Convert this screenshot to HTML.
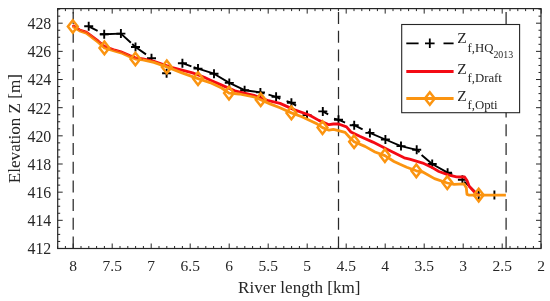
<!DOCTYPE html>
<html><head><meta charset="utf-8"><title>Longitudinal profile</title>
<style>html,body{margin:0;padding:0;background:#fff;}body{width:550px;height:301px;overflow:hidden;}svg{display:block;}text{font-family:"Liberation Serif","DejaVu Serif",serif;fill:#262626;}</style></head><body>
<svg width="550" height="301" viewBox="0 0 550 301">
<rect x="0" y="0" width="550" height="301" fill="#ffffff"/>
<path d="M73.2 236.5V248.5M73.2 217.8V229.8M73.2 199.1V211.1M73.2 180.4V192.4M73.2 161.7V173.7M73.2 143V155M73.2 124.3V136.3M73.2 105.6V117.6M73.2 86.9V98.9M73.2 68.2V80.2M73.2 49.5V61.5M73.2 30.8V42.8M73.2 12.1V24.1" stroke="#2a2a2a" stroke-width="1.25" fill="none"/>
<path d="M338.5 236.5V248.5M338.5 217.8V229.8M338.5 199.1V211.1M338.5 180.4V192.4M338.5 161.7V173.7M338.5 143V155M338.5 124.3V136.3M338.5 105.6V117.6M338.5 86.9V98.9M338.5 68.2V80.2M338.5 49.5V61.5M338.5 30.8V42.8M338.5 12.1V24.1" stroke="#2a2a2a" stroke-width="1.25" fill="none"/>
<path d="M506.1 236.5V248.5M506.1 217.8V229.8M506.1 199.1V211.1M506.1 180.4V192.4M506.1 161.7V173.7M506.1 143V155M506.1 124.3V136.3M506.1 105.6V117.6M506.1 86.9V98.9M506.1 68.2V80.2M506.1 49.5V61.5M506.1 30.8V42.8M506.1 12.1V24.1" stroke="#2a2a2a" stroke-width="1.25" fill="none"/>
<path d="M88.7 26.3L97.6 30.8M100 34.2L104.2 34.2L120.9 33.6L130.9 42.8M132.2 44L135.5 47L146 54.4M182.4 63.2L191.4 66.3M193.6 67.1L198 68.6L214 73.7L229.3 82.9L244.6 90.2L260.4 92.4L264.5 93.5M268.5 94.6L276.1 96.8L280.2 98.9M286.6 101.2L291.4 102.7L296.1 105.6M322.8 111.4L328.2 114.4M334 118.7L338.5 119.7L345.1 122.6M352 124.7L354.2 125.2L362.6 129.3M367.7 131.9L369.9 132.9L385.4 139.5L401 146.1L416.7 149.8L419.5 152.2M421.6 155L432.2 164L447.6 172.7L452.3 174.6M464.3 181.6L477 193.5" stroke="#000" stroke-width="1.9" fill="none" stroke-linejoin="round"/>
<path d="M84.2 26.3h9M88.7 21.8v9M99.7 34.2h9M104.2 29.7v9M116.4 33.6h9M120.9 29.1v9M131 47h9M135.5 42.5v9M147 58.2h9M151.5 53.7v9M162.1 73.2h9M166.6 68.7v9M177.9 63.2h9M182.4 58.7v9M193.5 68.6h9M198 64.1v9M209.5 73.7h9M214 69.2v9M224.8 82.9h9M229.3 78.4v9M240.1 90.2h9M244.6 85.7v9M255.9 92.4h9M260.4 87.9v9M271.6 96.8h9M276.1 92.3v9M286.9 102.7h9M291.4 98.2v9M302.5 115.1h9M307 110.6v9M318.3 111.4h9M322.8 106.9v9M334 119.7h9M338.5 115.2v9M349.7 125.2h9M354.2 120.7v9M365.4 132.9h9M369.9 128.4v9M380.9 139.5h9M385.4 135v9M396.5 146.1h9M401 141.6v9M412.2 149.8h9M416.7 145.3v9M427.7 164h9M432.2 159.5v9M443.1 172.7h9M447.6 168.2v9M457.9 179.8h9M462.4 175.3v9M474.2 195.1h9M478.7 190.6v9M489.9 195.1h9M494.4 190.6v9" stroke="#000" stroke-width="1.9" fill="none"/>
<polyline points="73.5,26 79.7,30 86.3,32.2 98.4,41.2 104.4,46.3 115,50.2 121,51.8 129.7,55.6 135.4,57.9 142.9,58.9 153.9,61.4 171.4,67.4 192.6,72.9 204.3,77.3 210,79.9 221.7,85.1 234.9,90.9 253.9,95.3 268.5,100.7 280,103.4 294.6,109.9 309.2,115 318.8,120.4 329,124.7 333.4,124 338.5,124 346.5,126.9 350.9,132 359.7,136.3 372.9,142.1 389.6,150.5 404.2,157.8 409.6,159.2 422.8,163.1 431,166.9 438.9,171.5 449.1,175.1 456.5,176.9 464.6,177 467,180.5 469.2,186.3 476.5,194.3 478.7,195.1" stroke="#f40a14" stroke-width="2.8" fill="none" stroke-linejoin="round" stroke-linecap="round"/>
<polyline points="72.8,26.5 79.7,30.9 86.3,33.1 98.4,42.4 104.4,47.9 115,51.2 121,52.8 129.7,56.6 135.4,59 142.9,59.9 153.9,62.4 166.8,66.9 182,72.9 198,78.6 210,82.6 221.7,88 229,93.1 239.2,94 253.9,97 260.7,99.7 270,103.9 280,107.8 291.4,112.9 301.9,116.8 313.6,122.2 317.3,124.1 322.5,127.6 329,130.2 333.4,129.4 338.5,130.6 345.1,132.4 349.5,137.3 354.1,141.7 365,146.4 375,152 384.9,155.6 394,161.5 400,164.3 406.7,167.2 416.3,170.8 422.8,172 434.5,178.6 447.3,183 454,184.3 463.9,183.8 466.3,187.8 467,194.4 469.2,195.1 478.7,195.1 505.9,195.1" stroke="#fb9410" stroke-width="2.8" fill="none" stroke-linejoin="round"/>
<polyline points="73.5,26.3 79.7,30.3 86.3,32.5 98.4,41.5 104.4,46.6 115,50.5 121,52.1 129.7,55.9 135.4,58.2 142.9,59.2" stroke="#f40a14" stroke-width="0.7" fill="none" stroke-linejoin="round"/>
<path d="M72.8 20.2L77.7 26.5L72.8 32.8L67.9 26.5ZM104.4 41.6L109.3 47.9L104.4 54.2L99.5 47.9ZM135.4 52.7L140.3 59L135.4 65.3L130.5 59ZM166.8 60.6L171.7 66.9L166.8 73.2L161.9 66.9ZM198 72.3L202.9 78.6L198 84.9L193.1 78.6ZM229 86.8L233.9 93.1L229 99.4L224.1 93.1ZM260.7 93.4L265.6 99.7L260.7 106L255.8 99.7ZM291.4 106.6L296.3 112.9L291.4 119.2L286.5 112.9ZM322.5 121.3L327.4 127.6L322.5 133.9L317.6 127.6ZM354.1 135.4L359 141.7L354.1 148L349.2 141.7ZM384.9 149.3L389.8 155.6L384.9 161.9L380 155.6ZM416.3 164.5L421.2 170.8L416.3 177.1L411.4 170.8ZM447.3 176.3L452.2 182.6L447.3 188.9L442.4 182.6ZM478.7 188.8L483.6 195.1L478.7 201.4L473.8 195.1Z" stroke="#fb9410" stroke-width="2.5" fill="none" stroke-linejoin="miter"/>
<rect x="57.7" y="8.6" width="483.3" height="239.9" fill="none" stroke="#262626" stroke-width="1.2"/>
<path d="M541.2 248.5v-5M541.2 8.6v5M533.4 248.5v-2.5M533.4 8.6v2.5M525.6 248.5v-2.5M525.6 8.6v2.5M517.8 248.5v-2.5M517.8 8.6v2.5M510 248.5v-2.5M510 8.6v2.5M502.2 248.5v-5M502.2 8.6v5M494.4 248.5v-2.5M494.4 8.6v2.5M486.6 248.5v-2.5M486.6 8.6v2.5M478.8 248.5v-2.5M478.8 8.6v2.5M471 248.5v-2.5M471 8.6v2.5M463.2 248.5v-5M463.2 8.6v5M455.4 248.5v-2.5M455.4 8.6v2.5M447.6 248.5v-2.5M447.6 8.6v2.5M439.8 248.5v-2.5M439.8 8.6v2.5M432 248.5v-2.5M432 8.6v2.5M424.2 248.5v-5M424.2 8.6v5M416.4 248.5v-2.5M416.4 8.6v2.5M408.6 248.5v-2.5M408.6 8.6v2.5M400.8 248.5v-2.5M400.8 8.6v2.5M393 248.5v-2.5M393 8.6v2.5M385.2 248.5v-5M385.2 8.6v5M377.4 248.5v-2.5M377.4 8.6v2.5M369.6 248.5v-2.5M369.6 8.6v2.5M361.8 248.5v-2.5M361.8 8.6v2.5M354 248.5v-2.5M354 8.6v2.5M346.2 248.5v-5M346.2 8.6v5M338.4 248.5v-2.5M338.4 8.6v2.5M330.6 248.5v-2.5M330.6 8.6v2.5M322.8 248.5v-2.5M322.8 8.6v2.5M315 248.5v-2.5M315 8.6v2.5M307.2 248.5v-5M307.2 8.6v5M299.4 248.5v-2.5M299.4 8.6v2.5M291.6 248.5v-2.5M291.6 8.6v2.5M283.8 248.5v-2.5M283.8 8.6v2.5M276 248.5v-2.5M276 8.6v2.5M268.2 248.5v-5M268.2 8.6v5M260.4 248.5v-2.5M260.4 8.6v2.5M252.6 248.5v-2.5M252.6 8.6v2.5M244.8 248.5v-2.5M244.8 8.6v2.5M237 248.5v-2.5M237 8.6v2.5M229.2 248.5v-5M229.2 8.6v5M221.4 248.5v-2.5M221.4 8.6v2.5M213.6 248.5v-2.5M213.6 8.6v2.5M205.8 248.5v-2.5M205.8 8.6v2.5M198 248.5v-2.5M198 8.6v2.5M190.2 248.5v-5M190.2 8.6v5M182.4 248.5v-2.5M182.4 8.6v2.5M174.6 248.5v-2.5M174.6 8.6v2.5M166.8 248.5v-2.5M166.8 8.6v2.5M159 248.5v-2.5M159 8.6v2.5M151.2 248.5v-5M151.2 8.6v5M143.4 248.5v-2.5M143.4 8.6v2.5M135.6 248.5v-2.5M135.6 8.6v2.5M127.8 248.5v-2.5M127.8 8.6v2.5M120 248.5v-2.5M120 8.6v2.5M112.2 248.5v-5M112.2 8.6v5M104.4 248.5v-2.5M104.4 8.6v2.5M96.6 248.5v-2.5M96.6 8.6v2.5M88.8 248.5v-2.5M88.8 8.6v2.5M81 248.5v-2.5M81 8.6v2.5M73.2 248.5v-5M73.2 8.6v5M65.4 248.5v-2.5M65.4 8.6v2.5M57.6 248.5v-2.5M57.6 8.6v2.5M57.7 248.48h5M541 248.48h-5M57.7 241.44h2.5M541 241.44h-2.5M57.7 234.4h2.5M541 234.4h-2.5M57.7 227.36h2.5M541 227.36h-2.5M57.7 220.32h5M541 220.32h-5M57.7 213.28h2.5M541 213.28h-2.5M57.7 206.24h2.5M541 206.24h-2.5M57.7 199.2h2.5M541 199.2h-2.5M57.7 192.16h5M541 192.16h-5M57.7 185.12h2.5M541 185.12h-2.5M57.7 178.08h2.5M541 178.08h-2.5M57.7 171.04h2.5M541 171.04h-2.5M57.7 164h5M541 164h-5M57.7 156.96h2.5M541 156.96h-2.5M57.7 149.92h2.5M541 149.92h-2.5M57.7 142.88h2.5M541 142.88h-2.5M57.7 135.84h5M541 135.84h-5M57.7 128.8h2.5M541 128.8h-2.5M57.7 121.76h2.5M541 121.76h-2.5M57.7 114.72h2.5M541 114.72h-2.5M57.7 107.68h5M541 107.68h-5M57.7 100.64h2.5M541 100.64h-2.5M57.7 93.6h2.5M541 93.6h-2.5M57.7 86.56h2.5M541 86.56h-2.5M57.7 79.52h5M541 79.52h-5M57.7 72.48h2.5M541 72.48h-2.5M57.7 65.44h2.5M541 65.44h-2.5M57.7 58.4h2.5M541 58.4h-2.5M57.7 51.36h5M541 51.36h-5M57.7 44.32h2.5M541 44.32h-2.5M57.7 37.28h2.5M541 37.28h-2.5M57.7 30.24h2.5M541 30.24h-2.5M57.7 23.2h5M541 23.2h-5M57.7 16.16h2.5M541 16.16h-2.5M57.7 9.12h2.5M541 9.12h-2.5" stroke="#262626" stroke-width="1" fill="none"/>
<text x="51.3" y="254.38" font-size="15.9" text-anchor="end">412</text>
<text x="51.3" y="226.22" font-size="15.9" text-anchor="end">414</text>
<text x="51.3" y="198.06" font-size="15.9" text-anchor="end">416</text>
<text x="51.3" y="169.9" font-size="15.9" text-anchor="end">418</text>
<text x="51.3" y="141.74" font-size="15.9" text-anchor="end">420</text>
<text x="51.3" y="113.58" font-size="15.9" text-anchor="end">422</text>
<text x="51.3" y="85.42" font-size="15.9" text-anchor="end">424</text>
<text x="51.3" y="57.26" font-size="15.9" text-anchor="end">426</text>
<text x="51.3" y="29.1" font-size="15.9" text-anchor="end">428</text>
<text x="73.2" y="270.8" font-size="15.5" text-anchor="middle">8</text>
<text x="112.2" y="270.8" font-size="15.5" text-anchor="middle">7.5</text>
<text x="151.2" y="270.8" font-size="15.5" text-anchor="middle">7</text>
<text x="190.2" y="270.8" font-size="15.5" text-anchor="middle">6.5</text>
<text x="229.2" y="270.8" font-size="15.5" text-anchor="middle">6</text>
<text x="268.2" y="270.8" font-size="15.5" text-anchor="middle">5.5</text>
<text x="307.2" y="270.8" font-size="15.5" text-anchor="middle">5</text>
<text x="346.2" y="270.8" font-size="15.5" text-anchor="middle">4.5</text>
<text x="385.2" y="270.8" font-size="15.5" text-anchor="middle">4</text>
<text x="424.2" y="270.8" font-size="15.5" text-anchor="middle">3.5</text>
<text x="463.2" y="270.8" font-size="15.5" text-anchor="middle">3</text>
<text x="502.2" y="270.8" font-size="15.5" text-anchor="middle">2.5</text>
<text x="541.2" y="270.8" font-size="15.5" text-anchor="middle">2</text>
<text x="299.3" y="292.8" font-size="17.1" text-anchor="middle">River length [km]</text>
<text transform="translate(19.5 128.6) rotate(-90)" font-size="17.1" text-anchor="middle">Elevation Z [m]</text>
<rect x="401.7" y="24.5" width="117.9" height="88.2" fill="#fff" stroke="#262626" stroke-width="1.1"/>
<path d="M406.3 43.3H418.6M443.5 43.3H453.6M425.0 43.3h9.6M429.8 38.5v9.6" stroke="#000" stroke-width="1.8" fill="none"/>
<path d="M406.3 71.5H453.6" stroke="#f40a14" stroke-width="2.8" fill="none"/>
<path d="M406.3 98.5H453.6" stroke="#fb9410" stroke-width="2.8" fill="none"/>
<path d="M429.8 92.2L434.7 98.5L429.8 104.8L424.9 98.5Z" stroke="#fb9410" stroke-width="2.5" fill="none"/>
<text x="457.2" y="42.8" font-size="15.5">Z<tspan font-size="12.8" dy="8.8" dx="0.8">f,HQ</tspan><tspan font-size="9.9" dy="6.8">2013</tspan></text>
<text x="457.2" y="73.6" font-size="15.5">Z<tspan font-size="12.8" dy="8.6" dx="0.8">f,Draft</tspan></text>
<text x="457.2" y="100.5" font-size="15.5">Z<tspan font-size="12.8" dy="8.6" dx="0.8">f,Opti</tspan></text>
</svg></body></html>
